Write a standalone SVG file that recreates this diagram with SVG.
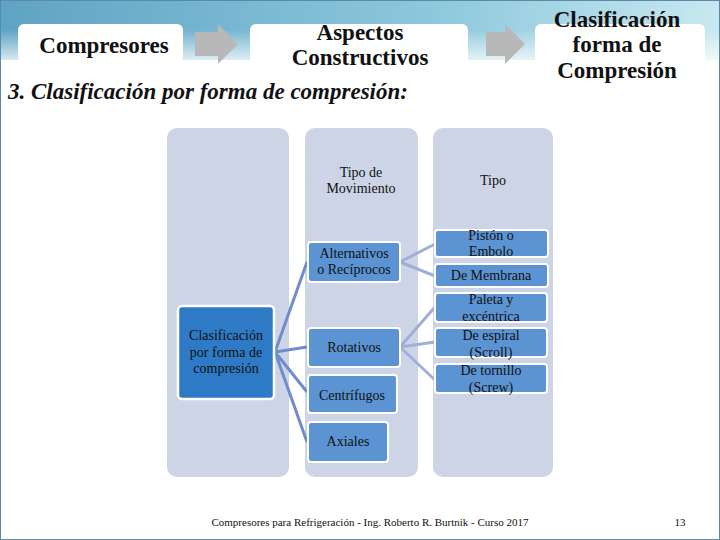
<svg xmlns="http://www.w3.org/2000/svg" width="720" height="540" viewBox="0 0 720 540">
<defs>
<linearGradient id="top" x1="0" y1="0" x2="1" y2="0"><stop offset="0" stop-color="#5fa3c4"/><stop offset="0.6" stop-color="#8cc8dc"/><stop offset="1" stop-color="#c8e8f0"/></linearGradient>
<linearGradient id="fade" x1="0" y1="0" x2="0" y2="1"><stop offset="0" stop-color="#fff" stop-opacity="0"/><stop offset="1" stop-color="#fff"/></linearGradient>
</defs>
<style>
.col{fill:#cdd4e6}
.box{fill:#5b93d3;stroke:#fff;stroke-width:2}
.dk{fill:#2f7ac6;stroke:#fff;stroke-width:2.5}
.t{font-family:'Liberation Serif',serif;font-size:14px;fill:#111;text-anchor:middle}
.h{font-family:'Liberation Serif',serif;font-size:23px;font-weight:bold;fill:#111;text-anchor:middle}
.it{font-family:'Liberation Serif',serif;font-size:23px;font-style:italic;font-weight:bold;fill:#111}
.ft{font-family:'Liberation Serif',serif;font-size:11px;fill:#111;text-anchor:middle}
.ln{stroke:#6f8ccc;stroke-width:3;fill:none}
.ln2{stroke:#9fb0d8;stroke-width:3;fill:none}
.hb{fill:#fff}
.ar{fill:#b8b8b8}
</style>
<rect width="720" height="540" fill="#fff"/>
<rect width="720" height="60" fill="url(#top)"/>
<rect y="30" width="720" height="40" fill="url(#fade)"/>
<rect x="0" y="0" width="720" height="540" fill="none" stroke="#5a8aa8" stroke-width="2"/>
<g id="header">
<rect class="hb" x="18" y="24" width="165" height="38" rx="6"/>
<text class="h" x="104" y="53">Compresores</text>
<polygon class="ar" points="195,32 218,32 218,24 238,44 218,64 218,56 195,56"/>
<rect class="hb" x="250" y="24" width="218" height="40" rx="6"/>
<text class="h" x="360" y="40">Aspectos</text>
<text class="h" x="360" y="65">Constructivos</text>
<polygon class="ar" points="486,32 505,32 505,24 525,44 505,64 505,56 486,56"/>
<rect class="hb" x="535" y="24" width="170" height="40" rx="6"/>
<text class="h" x="617" y="27">Clasificación</text>
<text class="h" x="617" y="52">forma de</text>
<text class="h" x="617" y="78">Compresión</text>
<text class="it" x="8" y="99">3.  Clasificación por forma de compresión:</text>
</g>
<rect class="col" x="167" y="128" width="122" height="349" rx="10"/>
<rect class="col" x="305" y="128" width="113" height="349" rx="10"/>
<rect class="col" x="433" y="128" width="120" height="349" rx="10"/>
<text class="t" x="361" y="177">Tipo de</text>
<text class="t" x="361" y="193">Movimiento</text>
<text class="t" x="493" y="185">Tipo</text>
<g id="connectors">
<path class="ln" d="M275,352 L307,262 M275,352 L307,347 M275,352 L307,392 M275,352 L307,442"/>
<path class="ln2" d="M400,262 L435,244 M400,262 L435,276 M400,347 L435,307 M400,347 L435,342 M400,347 L435,380"/>
</g>
<g id="n0"><rect class="dk" x="178" y="306" width="96" height="93" rx="4"/><text class="t" x="226" y="340">Clasificación</text><text class="t" x="226" y="357">por forma de</text><text class="t" x="226" y="373">compresión</text></g>
<g id="n1"><rect class="box" x="308" y="242" width="92" height="40" rx="3"/><text class="t" x="354" y="258">Alternativos</text><text class="t" x="354" y="274">o Recíprocos</text></g>
<g id="n2"><rect class="box" x="308" y="328" width="92" height="39" rx="3"/><text class="t" x="354" y="352">Rotativos</text></g>
<g id="n3"><rect class="box" x="308" y="375" width="89" height="38" rx="3"/><text class="t" x="352" y="400">Centrífugos</text></g>
<g id="n4"><rect class="box" x="308" y="422" width="80" height="40" rx="3"/><text class="t" x="348" y="446">Axiales</text></g>
<g id="n5"><rect class="box" x="435" y="230" width="113" height="27" rx="3"/><text class="t" x="491" y="240">Pistón o</text><text class="t" x="491" y="256">Embolo</text></g>
<g id="n6"><rect class="box" x="435" y="264" width="113" height="23" rx="3"/><text class="t" x="491" y="280">De Membrana</text></g>
<g id="n7"><rect class="box" x="435" y="293" width="112" height="29" rx="3"/><text class="t" x="491" y="304">Paleta y</text><text class="t" x="491" y="321">excéntrica</text></g>
<g id="n8"><rect class="box" x="435" y="328" width="112" height="29" rx="3"/><text class="t" x="491" y="340">De espiral</text><text class="t" x="491" y="357">(Scroll)</text></g>
<g id="n9"><rect class="box" x="435" y="364" width="112" height="29" rx="3"/><text class="t" x="491" y="375">De tornillo</text><text class="t" x="491" y="392">(Screw)</text></g>
<text class="ft" x="370" y="526">Compresores para Refrigeración -  Ing. Roberto R. Burtnik -  Curso 2017</text>
<text class="ft" x="680" y="526">13</text>
</svg>
